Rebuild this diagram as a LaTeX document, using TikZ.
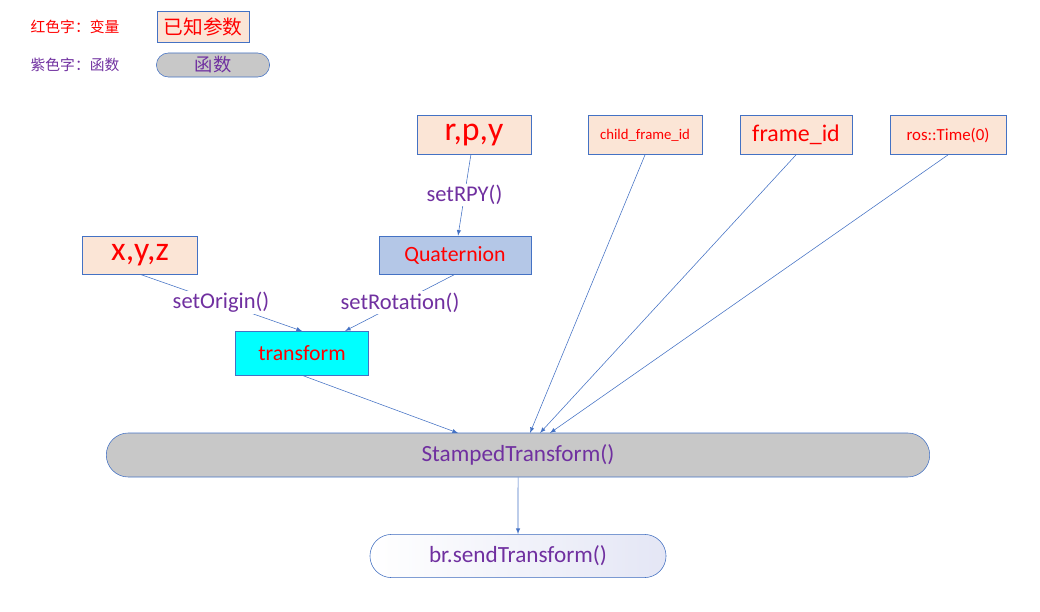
\documentclass[tikz,border=0pt]{standalone}
\usepackage{fontspec}
\setmainfont{Carlito}
\newfontfamily\cjk{Noto Sans CJK SC}
\usetikzlibrary{calc,shapes.misc}
\definecolor{edgeblue}{HTML}{4472C4}
\definecolor{peach}{HTML}{FBE5D6}
\definecolor{funcpurple}{HTML}{7030A0}
\definecolor{funcgray}{HTML}{C8C8C8}
\definecolor{quatblue}{HTML}{B4C7E7}
\definecolor{lavender}{HTML}{E4E6F5}
\definecolor{tfcyan}{HTML}{00FFFF}
\tikzset{
  var/.style={rectangle,draw=edgeblue,fill=peach,text=red,inner sep=0pt},
  func/.style={rounded rectangle,draw=edgeblue,fill=funcgray,text=funcpurple,inner sep=0pt},
  conn/.style={draw=edgeblue,-latex},
  lbl/.style={fill=white,text=funcpurple,font=\fontsize{16}{18}\selectfont,inner sep=1pt}
}
\begin{document}
\begin{tikzpicture}[x=0.025cm,y=-0.025cm]
\useasboundingbox (0,0) rectangle (1040,612);
% legend
\node at (75,27) [text=red,font=\cjk\fontsize{10.5}{12}\selectfont] (lgvar) {红色字：变量};
\node at (203,27) [var,minimum width=2.3cm,minimum height=0.78cm,font=\cjk\fontsize{14}{16}\selectfont] (lgvarbox) {已知参数};
\node at (75,65) [text=funcpurple,font=\cjk\fontsize{10.5}{12}\selectfont] (lgfun) {紫色字：函数};
\node at (213,65) [func,minimum width=2.83cm,minimum height=0.6cm,font=\cjk\fontsize{13}{15}\selectfont] (lgfunbox) {函数};
%
% known parameters
\node at (474,135) [var,minimum width=2.85cm,minimum height=0.98cm,font=\fontsize{24}{26}\selectfont] (rpy) {r,p,y};
\node at (645,135) [var,minimum width=2.85cm,minimum height=0.98cm,font=\fontsize{10.5}{12}\selectfont] (child) {child\_frame\_id};
\node at (796,135) [var,minimum width=2.8cm,minimum height=0.98cm,font=\fontsize{17}{19}\selectfont] (frame) {frame\_id};
\node at (948,135) [var,minimum width=2.9cm,minimum height=0.98cm,font=\fontsize{12}{14}\selectfont] (rostime) {ros::Time(0)};
\node at (140,255) [var,minimum width=2.88cm,minimum height=0.95cm,font=\fontsize{24}{26}\selectfont] (xyz) {x,y,z};
\node at (455,255) [var,fill=quatblue,minimum width=3.8cm,minimum height=0.95cm,font=\fontsize{15.5}{17}\selectfont] (quat) {Quaternion};
\node at (302,353) [var,fill=tfcyan,minimum width=3.33cm,minimum height=1.1cm,font=\fontsize{15.5}{17}\selectfont] (tf) {transform};
%
% functions
\node at (518,455) [func,minimum width=20.58cm,minimum height=1.1cm,font=\fontsize{16.5}{18}\selectfont] (stamped) {StampedTransform()};
\node at (518,556) [func,left color=white,right color=lavender,minimum width=7.4cm,minimum height=1.08cm,font=\fontsize{16.5}{18}\selectfont] (send) {br.sendTransform()};
%
\coordinate (in1) at (458,433);
\coordinate (in2) at (530,433);
\coordinate (in3) at (540,433);
\coordinate (in4) at (550,433);
\coordinate (tfin1) at (302,331);
\coordinate (tfin2) at (345,331);
%
\draw[conn] (rpy) -- node[lbl] {setRPY()} (quat);
\draw[conn] (xyz.south) -- node[lbl,pos=0.5] {setOrigin()} (tfin1);
\draw[conn] (quat.south) -- node[lbl,pos=0.5] {setRotation()} (tfin2);
\draw[conn] (tf.south) -- (in1);
\draw[conn] (child.south) -- (in2);
\draw[conn] (frame.south) -- (in3);
\draw[conn] (rostime.south) -- (in4);
\draw[conn] (stamped) -- (send);
\end{tikzpicture}
\end{document}
